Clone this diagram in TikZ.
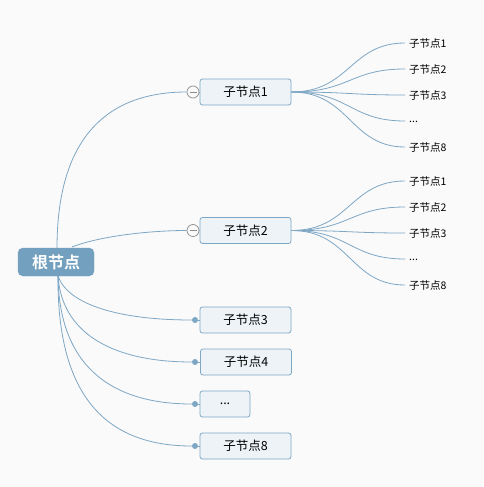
\documentclass[tikz,border=0pt]{standalone}
\usepackage{fontspec}
\setmainfont{Noto Sans CJK SC}[BoldFont={Noto Sans CJK SC Bold}]
\definecolor{bg}{HTML}{FAFAFA}
\definecolor{rootc}{HTML}{73A0BF}
\definecolor{linec}{HTML}{7DA7C4}
\definecolor{boxfill}{HTML}{EEF3F7}
\definecolor{collc}{HTML}{8C8C8C}
\newcommand{\mydots}{...}
\tikzset{
  rootbox/.style={draw=rootc, fill=rootc, rounded corners=5pt, minimum width=76pt, minimum height=28pt, inner sep=0pt, text=white, font=\fontsize{16}{18}\selectfont\bfseries},
  childbox/.style={draw=linec, fill=boxfill, rounded corners=2.5pt, minimum width=91pt, minimum height=26pt, inner sep=0pt, text=black, font=\fontsize{12.5}{14}\selectfont, line width=0.8pt},
  leaf/.style={anchor=west, inner sep=0pt, text=black, font=\fontsize{10.5}{12}\selectfont},
  conn/.style={draw=linec, line width=0.8pt},
  leafconn/.style={draw=linec, line width=0.8pt},
  collapse/.style={circle, draw=collc, fill=bg, minimum size=12pt, inner sep=0pt, line width=0.7pt},
  dotn/.style={circle, fill=linec, minimum size=6pt, inner sep=0pt},
}
\begin{document}
\begin{tikzpicture}[x=1pt,y=-1pt]
\fill[bg] (0,0) rectangle (483,487);
\useasboundingbox (0,0) rectangle (483,487);

% root
\node[rootbox] (root) at (56,262) {根节点};
\coordinate (rtop1) at (57,248);
\coordinate (rtop2) at (72,247);
\coordinate (rbot) at (58,276);

% children
\node[childbox] (c1) at (245.5,92) {子节点1};
\node[childbox] (c2) at (245.5,230.5) {子节点2};
\node[childbox] (c3) at (245.5,320) {子节点3};
\node[childbox] (c4) at (246,362) {子节点4};
\node[childbox, minimum width=50pt] (c5) at (225,404) {\mydots};
\node[childbox] (c8) at (245.5,446) {子节点8};

% collapse markers and dots
\node[collapse] (k1) at (193,92) {};
\node[collapse] (k2) at (193,230.5) {};
\draw[collc, line width=0.7pt] ([xshift=-3.5pt]k1.center) -- ([xshift=3.5pt]k1.center);
\draw[collc, line width=0.7pt] ([xshift=-3.5pt]k2.center) -- ([xshift=3.5pt]k2.center);
\node[dotn] (d3) at (195,320) {};
\node[dotn] (d4) at (195,362) {};
\node[dotn] (d5) at (195,404) {};
\node[dotn] (d8) at (195,446) {};

% root connectors
\draw[conn] (rtop1) .. controls (57,140) and (105,92) .. (k1.west);
\draw[conn] (rtop2) .. controls (100,236) and (150,230.5) .. (k2.west);
\draw[conn] (rbot) .. controls (68,305) and (120,320) .. (d3);
\draw[conn] (rbot) .. controls (62,335) and (115,362) .. (d4);
\draw[conn] (rbot) .. controls (59,365) and (110,404) .. (d5);
\draw[conn] (rbot) .. controls (57,395) and (105,446) .. (d8);
\draw[conn] (k1) -- (c1);
\draw[conn] (k2) -- (c2);
\draw[conn] (d3) -- (c3);
\draw[conn] (d4) -- (c4);
\draw[conn] (d5) -- (c5);
\draw[conn] (d8) -- (c8);

% leaves group 1
\foreach \i/\t/\y in {1/子节点1/43, 2/子节点2/69, 3/子节点3/95, 4/\mydots/121, 5/子节点8/147}{
  \node[leaf] (a\i) at (409,\y+1) {\t};
  \coordinate (ae\i) at (405,\y);
  \draw[leafconn] (c1.east) .. controls (350,92) and (350,\y) .. (ae\i);
}
% leaves group 2
\foreach \i/\t/\y in {1/子节点1/181, 2/子节点2/207, 3/子节点3/233, 4/\mydots/259, 5/子节点8/285}{
  \node[leaf] (b\i) at (409,\y+1) {\t};
  \coordinate (be\i) at (405,\y);
  \draw[leafconn] (c2.east) .. controls (350,230.5) and (350,\y) .. (be\i);
}
\end{tikzpicture}
\end{document}
